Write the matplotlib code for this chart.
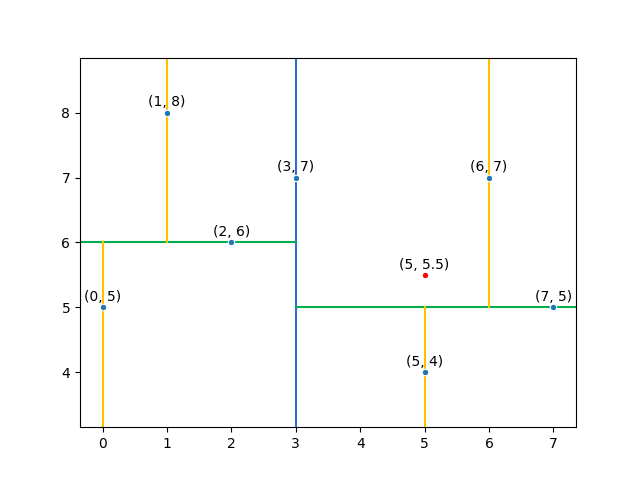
import matplotlib
matplotlib.use("Agg")
import matplotlib.pyplot as plt

xs = [0, 1, 2, 3, 5, 6, 7]
ys = [5, 8, 6, 7, 4, 7, 5]
query = (5, 5.5)

xlim = (-0.35, 7.35)
ylim = (3.15, 8.85)

# splits: (orientation, value, lo, hi, colour)
splits = [
    ("v", 3, ylim[0], ylim[1], "#2f6fd0"),
    ("h", 6, xlim[0], 3, "#00b050"),
    ("h", 5, 3, xlim[1], "#00b050"),
    ("v", 0, ylim[0], 6, "#ffc000"),
    ("v", 1, 6, ylim[1], "#ffc000"),
    ("v", 5, ylim[0], 5, "#ffc000"),
    ("v", 6, 5, ylim[1], "#ffc000"),
]

fig, ax = plt.subplots(figsize=(6.4, 4.8), dpi=100)
for o, v, lo, hi, c in splits:
    if o == "v":
        ax.plot([v, v], [lo, hi], color=c, lw=1.5, zorder=1)
    else:
        ax.plot([lo, hi], [v, v], color=c, lw=1.5, zorder=1)

ax.scatter(xs, ys, s=22, color="#1f77b4", edgecolor="white", linewidth=0.8, zorder=3)
ax.scatter([query[0]], [query[1]], s=22, color="red", edgecolor="white", linewidth=0.8, zorder=3)
for x, y in zip(xs, ys):
    ax.text(x, y + 0.05, f"({x}, {y})", ha="center", va="bottom", fontsize=10)
ax.text(query[0], query[1] + 0.05, f"({query[0]}, {query[1]})", ha="center", va="bottom", fontsize=10)

ax.set_xlim(*xlim)
ax.set_ylim(*ylim)
fig.savefig("out.png")
